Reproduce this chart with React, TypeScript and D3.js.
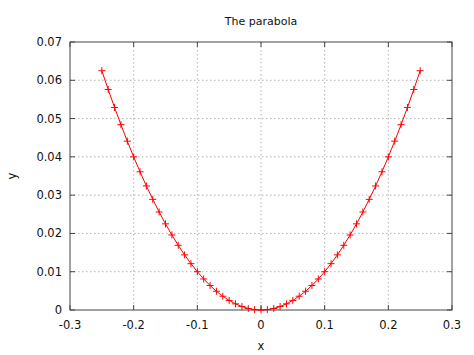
import React from "react";
import * as d3 from "d3";

const xValues = [
  -0.25, -0.24, -0.23, -0.22, -0.21, -0.2, -0.19, -0.18, -0.17, -0.16, -0.15,
  -0.14, -0.13, -0.12, -0.11, -0.1, -0.09, -0.08, -0.07, -0.06, -0.05, -0.04,
  -0.03, -0.02, -0.01, 0, 0.01, 0.02, 0.03, 0.04, 0.05, 0.06, 0.07, 0.08, 0.09,
  0.1, 0.11, 0.12, 0.13, 0.14, 0.15, 0.16, 0.17, 0.18, 0.19, 0.2, 0.21, 0.22,
  0.23, 0.24, 0.25,
];
const yValues = [
  0.0625, 0.0576, 0.0529, 0.0484, 0.0441, 0.04, 0.0361, 0.0324, 0.0289, 0.0256,
  0.0225, 0.0196, 0.0169, 0.0144, 0.0121, 0.01, 0.0081, 0.0064, 0.0049, 0.0036,
  0.0025, 0.0016, 0.0009, 0.0004, 0.0001, 0, 0.0001, 0.0004, 0.0009, 0.0016,
  0.0025, 0.0036, 0.0049, 0.0064, 0.0081, 0.01, 0.0121, 0.0144, 0.0169, 0.0196,
  0.0225, 0.0256, 0.0289, 0.0324, 0.0361, 0.04, 0.0441, 0.0484, 0.0529, 0.0576,
  0.0625,
];
const xTicks = [-0.3, -0.2, -0.1, 0, 0.1, 0.2, 0.3];
const yTicks = [0, 0.01, 0.02, 0.03, 0.04, 0.05, 0.06, 0.07];
const title = "The parabola";
const xLabel = "x";
const yLabel = "y";

const W = 474;
const H = 355;
const M = { left: 70, right: 452, top: 42, bottom: 310 };
const font = "DejaVu Sans, sans-serif";

export default function App() {
  const x = d3.scaleLinear().domain([-0.3, 0.3]).range([M.left, M.right]);
  const y = d3.scaleLinear().domain([0, 0.07]).range([M.bottom, M.top]);
  const pts = xValues.map((v, i) => [v, yValues[i]] as [number, number]);
  const line = d3
    .line<[number, number]>()
    .x((d) => x(d[0]))
    .y((d) => y(d[1]));
  const fmt = (v: number) => (Math.abs(v) < 1e-12 ? "0" : String(+v.toFixed(2)));
  const tl = 5;
  const axisColor = "#444";
  const gridColor = "#a0a0a0";
  const red = "#ff0000";
  const m = 3.5;

  return (
    <svg
      width={W}
      height={H}
      style={{ position: "absolute", left: 0, top: 0, background: "#fff" }}
    >
      <rect x={0} y={0} width={W} height={H} fill="#fff" />
      {/* grid */}
      {xTicks.slice(1, -1).map((t) => (
        <line
          key={"gx" + t}
          x1={x(t)}
          x2={x(t)}
          y1={M.top}
          y2={M.bottom}
          stroke={gridColor}
          strokeWidth={0.8}
          strokeDasharray="1.5,2.5"
        />
      ))}
      {yTicks.slice(1, -1).map((t) => (
        <line
          key={"gy" + t}
          x1={M.left}
          x2={M.right}
          y1={y(t)}
          y2={y(t)}
          stroke={gridColor}
          strokeWidth={0.8}
          strokeDasharray="1.5,2.5"
        />
      ))}
      {/* ticks */}
      {xTicks.map((t) => (
        <g key={"tx" + t}>
          <line x1={x(t)} x2={x(t)} y1={M.bottom} y2={M.bottom - tl} stroke={axisColor} />
          <line x1={x(t)} x2={x(t)} y1={M.top} y2={M.top + tl} stroke={axisColor} />
          <text
            x={x(t)}
            y={M.bottom + 19}
            textAnchor="middle"
            fontFamily={font}
            fontSize={11.5}
            fill="#111"
          >
            {fmt(t)}
          </text>
        </g>
      ))}
      {yTicks.map((t) => (
        <g key={"ty" + t}>
          <line x1={M.left} x2={M.left + tl} y1={y(t)} y2={y(t)} stroke={axisColor} />
          <line x1={M.right} x2={M.right - tl} y1={y(t)} y2={y(t)} stroke={axisColor} />
          <text
            x={M.left - 8}
            y={y(t) + 4}
            textAnchor="end"
            fontFamily={font}
            fontSize={11.5}
            fill="#111"
          >
            {fmt(t)}
          </text>
        </g>
      ))}
      {/* border */}
      <rect
        x={M.left}
        y={M.top}
        width={M.right - M.left}
        height={M.bottom - M.top}
        fill="none"
        stroke={axisColor}
        strokeWidth={1}
      />
      {/* data */}
      <path d={line(pts) || ""} fill="none" stroke={red} strokeWidth={1} />
      {pts.map((p, i) => (
        <g key={"p" + i} stroke={red} strokeWidth={1}>
          <line x1={x(p[0]) - m} x2={x(p[0]) + m} y1={y(p[1])} y2={y(p[1])} />
          <line x1={x(p[0])} x2={x(p[0])} y1={y(p[1]) - m} y2={y(p[1]) + m} />
        </g>
      ))}
      {/* labels */}
      <text
        x={(M.left + M.right) / 2}
        y={25}
        textAnchor="middle"
        fontFamily={font}
        fontSize={11}
        fill="#111"
      >
        {title}
      </text>
      <text
        x={(M.left + M.right) / 2}
        y={350}
        textAnchor="middle"
        fontFamily={font}
        fontSize={11.5}
        fill="#111"
      >
        {xLabel}
      </text>
      <text
        transform={`translate(16,${(M.top + M.bottom) / 2}) rotate(-90)`}
        textAnchor="middle"
        fontFamily={font}
        fontSize={11.5}
        fill="#111"
      >
        {yLabel}
      </text>
    </svg>
  );
}
